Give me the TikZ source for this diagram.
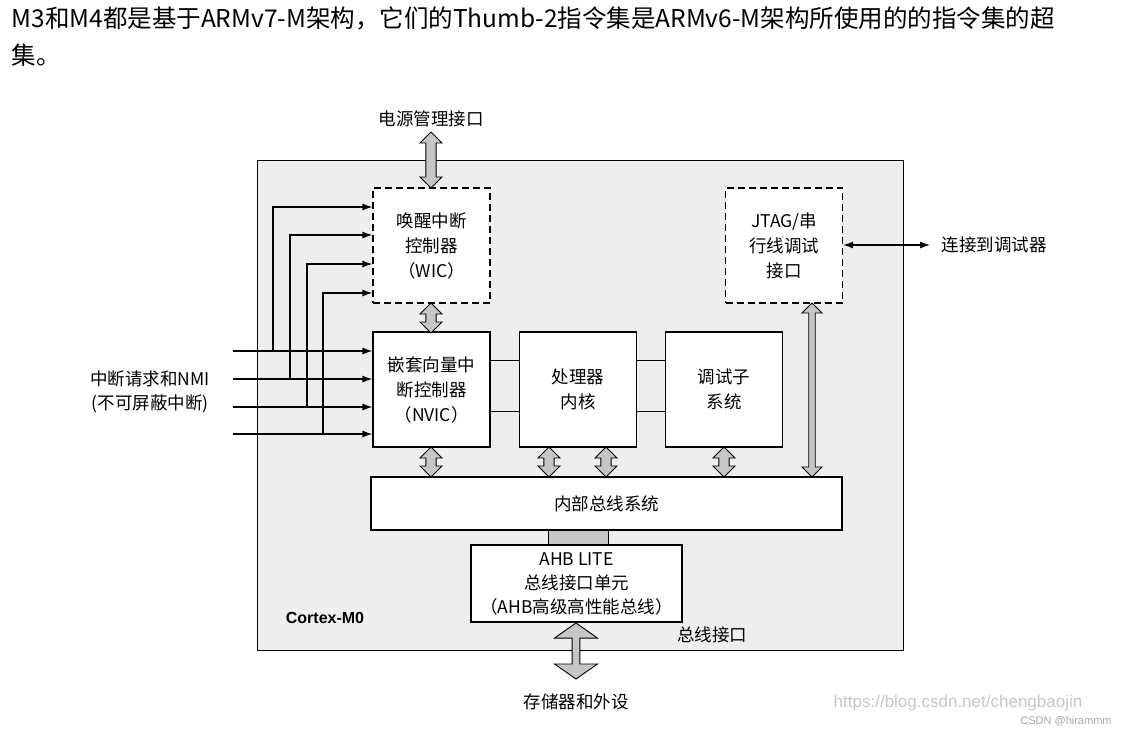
\documentclass[tikz,border=0pt]{standalone}
\usepackage{fontspec}
\setmainfont{Liberation Sans}
\newfontfamily\cjk{Noto Sans CJK SC}
\usetikzlibrary{shapes.arrows,arrows.meta}
\begin{document}
\begin{tikzpicture}[x=1pt,y=-1pt,
  blk/.style={draw,line width=1.2pt,fill=white,minimum width=117pt,minimum height=115pt,align=center,font=\cjk\fontsize{17.5}{25}\selectfont},
  dblk/.style={blk,dash pattern=on 7pt off 4pt},
  lbl/.style={font=\cjk\fontsize{17.5}{24}\selectfont,align=center},
  darr/.style={draw,line width=0.9pt,fill=gray!45,double arrow,double arrow head extend=4pt,minimum width=22pt,inner sep=3pt,rotate=90},
  sig/.style={line width=1.2pt,-{Latex[length=10pt,width=7pt]}}]
\useasboundingbox (0,0) rectangle (1124,734);
\node[anchor=west,font=\cjk\fontsize{24.5}{28}\selectfont] (t1) at (8,18) {M3和M4都是基于ARMv7-M架构，它们的Thumb-2指令集是ARMv6-M架构所使用的的指令集的超};
\node[anchor=west,font=\cjk\fontsize{24.5}{28}\selectfont] (t2) at (8,55) {集。};
\node[draw,line width=1.2pt,fill=gray!13,minimum width=646pt,minimum height=490pt,anchor=north west] (outer) at (257,160) {};
\node[lbl] (pwr) at (431,119) {电源管理接口};
\node[dblk] (wic) at (431.5,245.5) {唤醒中断\\控制器\\（WIC）};
\node[blk] (nvic) at (431.5,389.5) {嵌套向量中\\断控制器\\（NVIC）};
\node[blk] (cpu) at (578,389.5) {处理器\\内核};
\node[blk] (dbg) at (724,389.5) {调试子\\系统};
\node[dblk] (jtag) at (784,245.5) {JTAG/串\\行线调试\\接口};
\node[draw,line width=1.2pt,fill=white,minimum width=471pt,minimum height=53pt,font=\cjk\fontsize{17.5}{24}\selectfont] (bus) at (606.5,503.5) {内部总线系统};
\node[draw,line width=0.9pt,fill=gray!45,minimum width=60pt,minimum height=15pt,inner sep=0pt] (conn) at (578,537.5) {};
\node[draw,line width=1.2pt,fill=white,minimum width=211pt,minimum height=77pt,align=center,font=\cjk\fontsize{17.5}{24}\selectfont] (ahb) at (576.5,583.5) {AHB LITE\\总线接口单元\\（AHB高级高性能总线）};
\node[lbl] (mem) at (576,702) {存储器和外设};
\node[lbl] (busif) at (712,635) {总线接口};
\node[font=\fontsize{16}{18}\selectfont\bfseries] (cm0) at (325,618) {Cortex-M0};
\node[lbl,anchor=west] (dbgtxt) at (938,245) {连接到调试器};
\node[lbl] (irq) at (150,392) {中断请求和NMI\\(不可屏蔽中断)};
% fat arrows
\node[darr,minimum height=56pt] (a1) at (431,160) {};
\node[darr,minimum height=30pt] (a2) at (431,318) {};
\node[darr,minimum height=30pt] (a3) at (431,462) {};
\node[darr,minimum height=30pt] (a4) at (549,462) {};
\node[darr,minimum height=30pt] (a5) at (606,462) {};
\node[darr,minimum height=30pt] (a6) at (724,462) {};
\node[darr,minimum height=174pt,minimum width=20pt,double arrow head extend=5pt,inner sep=2pt] (a7) at (812,390) {};
\node[darr,minimum height=56pt,minimum width=43pt,double arrow head extend=11pt,double arrow tip angle=110,inner sep=2pt] (a8) at (576,651) {};
% lines
\draw[line width=1.2pt] ([yshift=-22pt]nvic.east) -- ([yshift=-22pt]cpu.west);
\draw[line width=1.2pt] ([yshift=29pt]nvic.east) -- ([yshift=29pt]cpu.west);
\draw[line width=1.2pt] ([yshift=-22pt]cpu.east) -- ([yshift=-22pt]dbg.west);
\draw[line width=1.2pt] ([yshift=29pt]cpu.east) -- ([yshift=29pt]dbg.west);
\coordinate (j2) at (930,245);
\draw[line width=1.2pt,{Latex[length=10pt,width=7pt]}-{Latex[length=10pt,width=7pt]}] (jtag.east |- j2) -- (j2);
\foreach \i/\y/\x/\w in {1/351/273/207,2/379/290/235,3/407/307/264,4/434/323/293}{
  \coordinate (s\i) at (233,\y);
  \draw[sig] (s\i) -- (s\i -| nvic.west);
  \draw[sig] (\x,\y) -- (\x,\w) -- (wic.west |- {(0,\w)});
}
\node[font=\fontsize{17}{20}\selectfont,text=gray!45] (wm) at (958,703) {https://blog.csdn.net/chengbaojin};
\node[font=\fontsize{11}{13}\selectfont,text=gray!70] (wm2) at (1066,721) {CSDN @hirammm};
\end{tikzpicture}
\end{document}
